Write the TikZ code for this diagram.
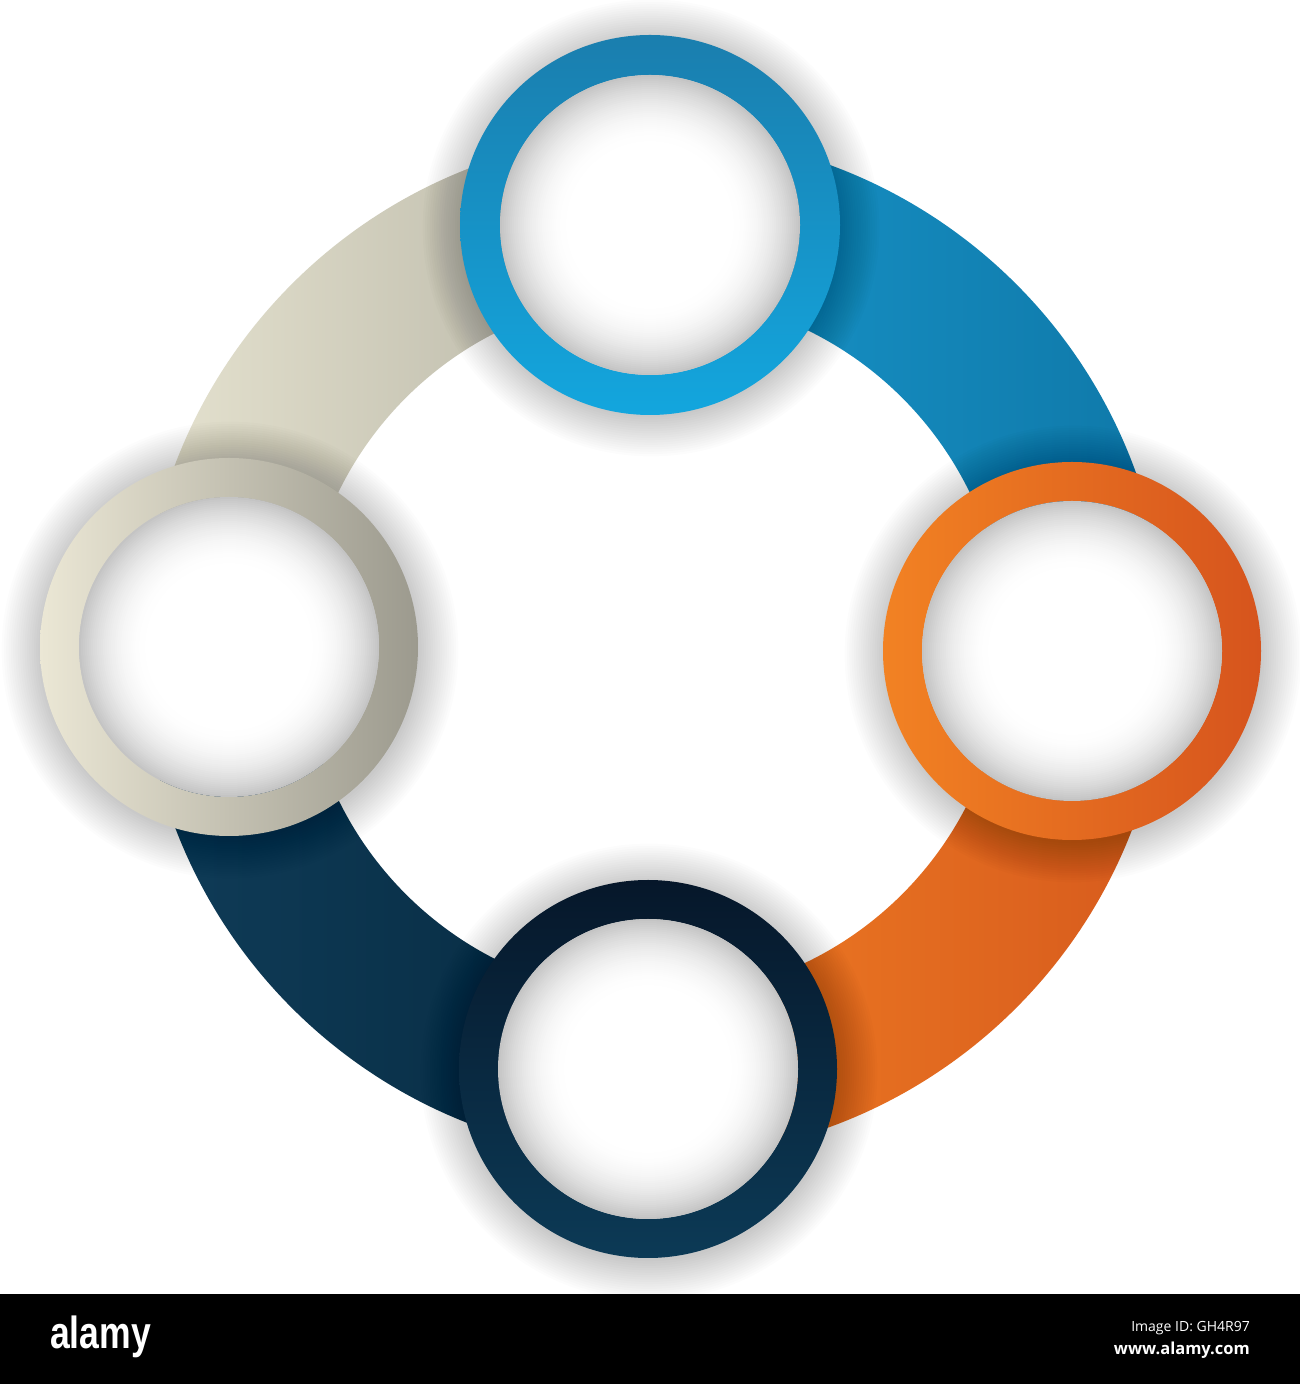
\documentclass[tikz,border=0pt]{standalone}
\usepackage{fontspec}
\newfontfamily\alamyfont[FakeStretch=0.79]{Liberation Sans}
\newfontfamily\idfont{Open Sans}
\usetikzlibrary{calc}
\definecolor{grayL}{HTML}{E6E3D0}
\definecolor{grayR}{HTML}{B4B2A3}
\definecolor{blueL}{HTML}{1895CA}
\definecolor{blueR}{HTML}{0F78A8}
\definecolor{oraL}{HTML}{F07D23}
\definecolor{oraR}{HTML}{D65A1D}
\definecolor{navL}{HTML}{0F3C58}
\definecolor{navR}{HTML}{072A40}
\definecolor{topT}{HTML}{1A7EAE}
\definecolor{topB}{HTML}{13A6DE}
\definecolor{leftL}{HTML}{EBE7D5}
\definecolor{leftR}{HTML}{9C9A8E}
\definecolor{rightL}{HTML}{F28223}
\definecolor{rightR}{HTML}{D6541D}
\definecolor{botT}{HTML}{06172A}
\definecolor{botB}{HTML}{0C3A56}
\tikzset{
  band/.style={draw=none},
  shadowlayer/.style={fill=black, opacity=0.012},
  wm/.style={text=white, inner sep=0pt}
}
\begin{document}
\begin{tikzpicture}[x=1pt,y=1pt]
\useasboundingbox (0,0) rectangle (1300,1384);
\fill[white] (0,0) rectangle (1300,1384);
% centres
\coordinate (rc) at (654,738);
\coordinate (ctop) at (650,1159);
\coordinate (cleft) at (229,737);
\coordinate (cright) at (1072,733);
\coordinate (cbot) at (648,315);
\def\Ro{512}
\def\Ri{351}
% bands
\shade[band, left color=blueL, right color=blueR]
  ($(rc)+(0:\Ro)$) arc[start angle=0, end angle=90, radius=\Ro]
  -- ($(rc)+(90:\Ri)$) arc[start angle=90, end angle=0, radius=\Ri] -- cycle;
\shade[band, left color=grayL, right color=grayR]
  ($(rc)+(90:\Ro)$) arc[start angle=90, end angle=180, radius=\Ro]
  -- ($(rc)+(180:\Ri)$) arc[start angle=180, end angle=90, radius=\Ri] -- cycle;
\shade[band, left color=navL, right color=navR]
  ($(rc)+(180:\Ro)$) arc[start angle=180, end angle=270, radius=\Ro]
  -- ($(rc)+(270:\Ri)$) arc[start angle=270, end angle=180, radius=\Ri] -- cycle;
\shade[band, left color=oraL, right color=oraR]
  ($(rc)+(270:\Ro)$) arc[start angle=270, end angle=360, radius=\Ro]
  -- ($(rc)+(360:\Ri)$) arc[start angle=360, end angle=270, radius=\Ri] -- cycle;
% shadows
\foreach \c in {ctop,cleft,cright,cbot}{
  \foreach \i in {1,...,18}{
    \fill[shadowlayer] ($(\c)+(1,-3)$) circle ({187+2.3*\i});
  }
}
% rings
\shade[top color=topT, bottom color=topB, even odd rule] (ctop) circle (190) (ctop) circle (150);
\shade[left color=leftL, right color=leftR, even odd rule] (cleft) circle (189) (cleft) circle (150);
\shade[left color=rightL, right color=rightR, even odd rule] (cright) circle (189) (cright) circle (150);
\shade[top color=botT, bottom color=botB, even odd rule] (cbot) circle (189) (cbot) circle (150);
% inner discs (grey rim fading to a white centre)
\foreach \c in {ctop,cleft,cright,cbot}{
  \foreach \r in {150,148,...,80}{
    \pgfmathsetmacro{\dk}{23*((\r-80)/70)^2}
    \fill[black!\dk!white] (\c) circle (\r);
  }
}
% bottom bar
\fill[black] (0,0) rectangle (1300,90);
\node[wm, anchor=base west, font=\alamyfont\bfseries\fontsize{45}{45}\selectfont] (logo) at (50,35) {alamy};
\node[wm, anchor=base east, font=\idfont\fontsize{14}{14}\selectfont] (imgid) at (1250,52) {Image ID: GH4R97};
\node[wm, anchor=base east, font=\idfont\bfseries\fontsize{16.5}{16.5}\selectfont] (url) at (1250,29) {www.alamy.com};
\end{tikzpicture}
\end{document}
